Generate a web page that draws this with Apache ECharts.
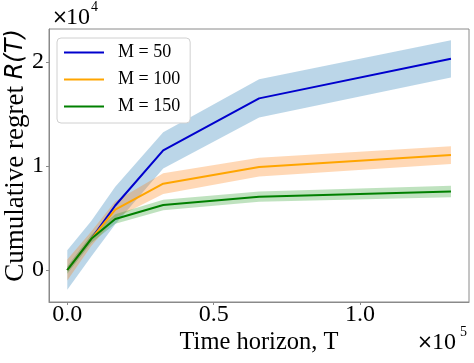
<!DOCTYPE html>
<html>
<head>
<meta charset="utf-8">
<script src="https://cdn.jsdelivr.net/npm/echarts@6/dist/echarts.min.js"></script>
<style>html,body{margin:0;padding:0;background:#fff}#c{width:474px;height:363px}</style>
</head>
<body>
<div id="c"></div>
<script>
const T = [0, 8192, 16384, 32768, 65536, 131072];
const m50 = [0, 3000, 6200, 11500, 16500, 20300];
const m50err = [1900, 1700, 1800, 1750, 1850, 1800];
const m100 = [0, 3000, 5800, 8300, 9900, 11050];
const m100err = [1000, 700, 800, 1000, 900, 850];
const m150 = [0, 3000, 4900, 6250, 7050, 7550];
const m150err = [350, 400, 450, 500, 500, 550];
const xTicks = [0, 50000, 100000];
const yTicks = [0, 10000, 20000];
const names = ['M = 50', 'M = 100', 'M = 150'];

const groups = [
  {name: names[0], mean: m50, err: m50err, line: '#0000cd', band: '#1f77b4'},
  {name: names[1], mean: m100, err: m100err, line: '#ffa500', band: '#ff7f0e'},
  {name: names[2], mean: m150, err: m150err, line: '#008000', band: '#2ca02c'}
];

const series = [];
groups.forEach((g) => {
  const rows = T.map((t, k) => [t, g.mean[k] - g.err[k], g.mean[k] + g.err[k]]);
  series.push({
    type: 'custom', silent: true, z: 1,
    encode: {x: 0, y: [1, 2]},
    data: rows,
    renderItem: function (params, api) {
      if (params.dataIndex !== 0) return null;
      const upper = rows.map(r => api.coord([r[0], r[2]]));
      const lower = rows.map(r => api.coord([r[0], r[1]])).reverse();
      return {
        type: 'polygon',
        shape: {points: upper.concat(lower)},
        style: {fill: g.band, opacity: 0.3}
      };
    }
  });
});
groups.forEach((g) => {
  series.push({
    name: g.name, type: 'line', symbol: 'none', z: 3,
    lineStyle: {color: g.line, width: 2}, itemStyle: {color: g.line},
    data: T.map((t, k) => [t, g.mean[k]])
  });
});

const serif = 'Liberation Serif';
const axisCol = '#8a8a8a';
const chart = echarts.init(document.getElementById('c'), null, {renderer: 'canvas'});
chart.setOption({
  animation: false,
  backgroundColor: '#fff',
  textStyle: {fontFamily: serif},
  grid: {left: 49, top: 29, width: 420, height: 273, show: true, borderColor: axisCol, borderWidth: 1,
         containLabel: false, outerBoundsMode: 'none'},
  xAxis: {
    type: 'value', min: -6250, max: 137240,
    name: 'Time horizon, T', nameLocation: 'middle', nameGap: 28, nameMoveOverlap: false,
    nameTextStyle: {fontFamily: serif, fontSize: 24.5, color: '#000'},
    axisLine: {show: true, onZero: false, lineStyle: {color: axisCol}},
    axisTick: {show: true, customValues: xTicks, length: 3, lineStyle: {color: axisCol}},
    axisLabel: {customValues: xTicks, formatter: v => (v / 100000).toFixed(1), fontFamily: serif, fontSize: 24, color: '#000', margin: 1},
    splitLine: {show: false}
  },
  yAxis: {
    type: 'value', min: -3077, max: 23170,
    name: '{a|Cumulative regret }{b|R(T)}', nameLocation: 'middle', nameGap: 20, nameMoveOverlap: false,
    nameTextStyle: {fontFamily: serif, padding: [0, 0, 0, 20], rich: {
      a: {fontFamily: serif, fontSize: 27, color: '#000'},
      b: {fontFamily: 'DejaVu Sans', fontStyle: 'italic', fontSize: 24, color: '#000'}
    }},
    axisLine: {show: true, onZero: false, lineStyle: {color: axisCol}},
    axisTick: {show: true, customValues: yTicks, length: 3, lineStyle: {color: axisCol}},
    axisLabel: {customValues: yTicks, formatter: v => String(v / 10000), fontFamily: serif, fontSize: 24, color: '#000', margin: 5},
    splitLine: {show: false}
  },
  legend: {
    data: names, orient: 'vertical', left: 57, top: 38,
    icon: 'rect', itemWidth: 40, itemHeight: 2, itemGap: 0,
    padding: [1, 10, 3, 7],
    backgroundColor: '#fff', borderColor: '#d0d0d0', borderWidth: 1, borderRadius: 4,
    formatter: n => '{g|}{t|' + n + '}',
    textStyle: {fontFamily: serif, fontSize: 18, color: '#000', lineHeight: 27, rich: {
      g: {width: 9, lineHeight: 27},
      t: {fontFamily: serif, fontSize: 18, color: '#000', lineHeight: 27}
    }}
  },
  graphic: [
    {type: 'text', left: 52, top: 9, style: {text: '×', font: '19px "DejaVu Sans"', fill: '#000'}},
    {type: 'text', left: 66, top: 6, style: {text: '10', font: '24px "Liberation Serif"', fill: '#000'}},
    {type: 'text', left: 91, top: 0, style: {text: '4', font: '14px "Liberation Serif"', fill: '#000'}},
    {type: 'text', left: 417, top: 334, style: {text: '×', font: '19px "DejaVu Sans"', fill: '#000'}},
    {type: 'text', left: 432, top: 331, style: {text: '10', font: '24px "Liberation Serif"', fill: '#000'}},
    {type: 'text', left: 460, top: 325, style: {text: '5', font: '14px "Liberation Serif"', fill: '#000'}}
  ],
  series: series
});
</script>
</body>
</html>
